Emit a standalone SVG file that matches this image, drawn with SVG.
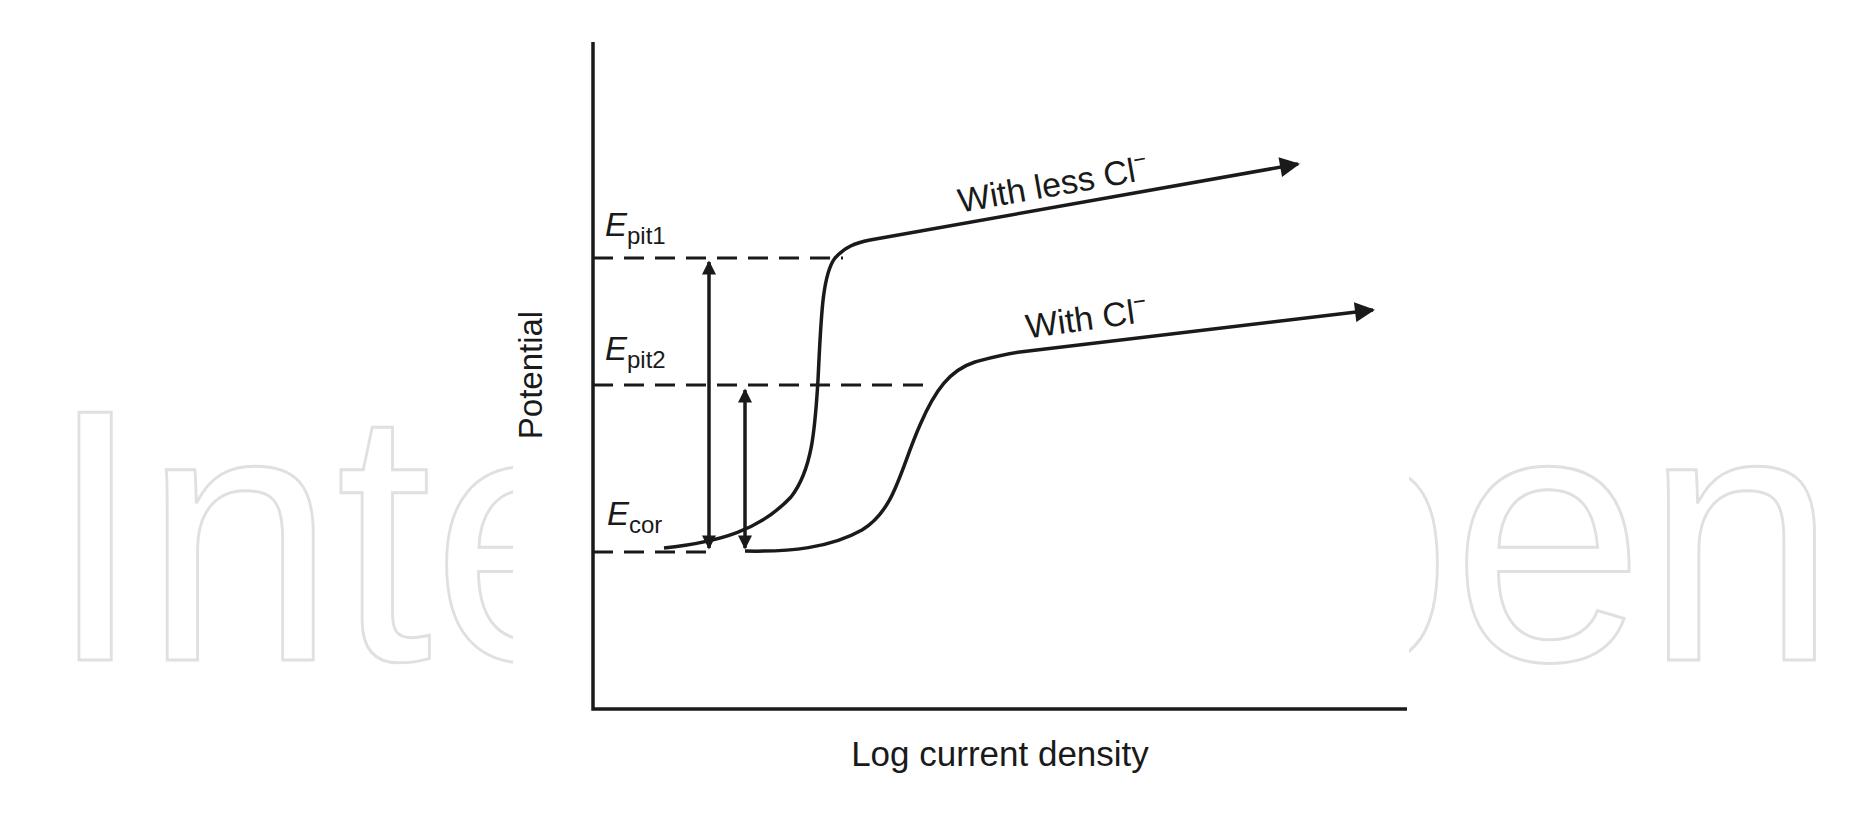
<svg xmlns="http://www.w3.org/2000/svg" width="1849" height="829" viewBox="0 0 1849 829">
<defs>
<style>
.t{font-family:"Liberation Sans",Arial,sans-serif;fill:#1a1a1a}
.ln{fill:none;stroke:#1a1a1a;stroke-width:3.5}
.d{fill:none;stroke:#1a1a1a;stroke-width:3;stroke-dasharray:20,11}
</style>
<clipPath id="wm"><rect x="0" y="0" width="1849" height="668"/></clipPath>
<marker id="big" viewBox="0 0 10 10" refX="9" refY="5" markerWidth="24" markerHeight="20" markerUnits="userSpaceOnUse" orient="auto"><path d="M0,0L10,5L0,10z" fill="#1a1a1a"/></marker>
<marker id="sm" viewBox="0 0 10 10" refX="9" refY="5" markerWidth="20" markerHeight="14" markerUnits="userSpaceOnUse" orient="auto-start-reverse"><path d="M0,0L10,5L0,10z" fill="#1a1a1a"/></marker>
</defs>
<rect width="1849" height="829" fill="#fff"/>
<text x="47" y="660" clip-path="url(#wm)" font-family="Liberation Sans,Arial,sans-serif" font-size="360" textLength="1790" lengthAdjust="spacingAndGlyphs" fill="#fff" stroke="#e0e0e0" stroke-width="3">IntechOpen</text>
<rect x="513" y="330" width="896" height="340" fill="#fff"/>
<g id="axes">
<path class="ln" d="M593,42V709H1407" stroke-width="5"/>
</g>
<g id="connectors">
<path class="d" d="M593,258H843"/>
<path class="d" d="M593,385H931"/>
<path class="d" d="M593,552H707"/>
<path class="ln" stroke-width="2.5" d="M709,262V548" marker-start="url(#sm)" marker-end="url(#sm)"/>
<path class="ln" stroke-width="2.5" d="M745,390V548" marker-start="url(#sm)" marker-end="url(#sm)"/>
<path class="ln" d="M664,548C720,542 760,530 791,497C812,470 815,430 818,380C821,320 822,275 835,258C845,247 855,243 870,240L1298,164" marker-end="url(#big)"/>
<path class="ln" d="M745,551C790,552 830,548 862,530C895,510 900,470 920,425C935,390 950,370 975,362C990,358 1000,355 1020,352L1373,310" marker-end="url(#big)"/>
</g>
<g id="labels">
<text class="t" x="605" y="236" font-size="33" font-style="italic">E<tspan font-style="normal" font-size="24" dy="8">pit1</tspan></text>
<text class="t" x="605" y="360" font-size="33" font-style="italic">E<tspan font-style="normal" font-size="24" dy="8">pit2</tspan></text>
<text class="t" x="607" y="525" font-size="33" font-style="italic">E<tspan font-style="normal" font-size="24" dy="8">cor</tspan></text>
<text class="t" font-size="34" text-anchor="middle" transform="translate(1055,196) rotate(-10)">With less Cl<tspan font-size="22" dy="-14">−</tspan></text>
<text class="t" font-size="34" text-anchor="middle" transform="translate(1088,330) rotate(-8)">With Cl<tspan font-size="22" dy="-14">−</tspan></text>
<text class="t" font-size="33" text-anchor="middle" transform="translate(542,375) rotate(-90)">Potential</text>
<text class="t" x="1000" y="766" font-size="35" text-anchor="middle">Log current density</text>
</g>
</svg>
